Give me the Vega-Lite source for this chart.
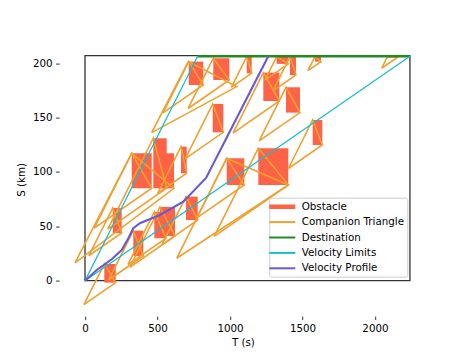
{
  "$schema": "https://vega.github.io/schema/vega-lite/v6.json",
  "width": 367.4,
  "height": 273.4,
  "autosize": "none",
  "padding": {"left": 59.2, "top": 42.6, "right": 47.4, "bottom": 39},
  "config": {
    "view": {"stroke": null},
    "font": "DejaVu Sans",
    "axis": {"domain": false, "grid": false, "tickSize": 3.6, "tickColor": "#000", "tickWidth": 0.8, "labelFont": "DejaVu Sans", "labelFontSize": 10.3, "labelColor": "#000", "labelPadding": 3.5, "titleFont": "DejaVu Sans", "titleFontSize": 10.3, "titleFontWeight": "normal", "titleColor": "#000"},
    "legend": {"orient": "none", "legendX": 210.1, "legendY": 155.1, "symbolType": "M-1.8,0H3.4", "symbolSize": 100, "symbolStrokeWidth": 2, "labelFont": "DejaVu Sans", "labelFontSize": 10.3, "labelColor": "#000", "strokeColor": "#cccccc", "fillColor": "#ffffff", "padding": 3, "cornerRadius": 2, "rowPadding": 3.4, "labelOffset": 17.4}
  },
  "datasets": {
    "frame": [{"t1": 0, "t2": 2241, "s1": 0, "s2": 207}],
    "obstacles": [
      {"t1": 133.1, "t2": 211.7, "s1": -1.8, "s2": 15.4},
      {"t1": 191.0, "t2": 253.1, "s1": 43.9, "s2": 66.9},
      {"t1": 333.1, "t2": 402.1, "s1": 22.7, "s2": 46.0},
      {"t1": 477.9, "t2": 558.6, "s1": 39.0, "s2": 63.2},
      {"t1": 517.2, "t2": 620.7, "s1": 41.1, "s2": 67.8},
      {"t1": 696.6, "t2": 777.2, "s1": 55.8, "s2": 77.3},
      {"t1": 322.1, "t2": 460.0, "s1": 85.0, "s2": 117.2},
      {"t1": 471.0, "t2": 563.4, "s1": 85.0, "s2": 131.0},
      {"t1": 503.4, "t2": 613.8, "s1": 85.0, "s2": 117.2},
      {"t1": 662.1, "t2": 701.4, "s1": 98.8, "s2": 123.3},
      {"t1": 880.7, "t2": 953.8, "s1": 136.5, "s2": 162.6},
      {"t1": 715.2, "t2": 815.9, "s1": 180.0, "s2": 201.5},
      {"t1": 884.8, "t2": 995.2, "s1": 184.6, "s2": 204.6},
      {"t1": 977.2, "t2": 1098.6, "s1": 88.0, "s2": 112.6},
      {"t1": 1115.2, "t2": 1149.7, "s1": 190.8, "s2": 206.1},
      {"t1": 1229.7, "t2": 1340.0, "s1": 165.3, "s2": 191.4},
      {"t1": 1322.1, "t2": 1402.1, "s1": 199.4, "s2": 206.1},
      {"t1": 1413.8, "t2": 1455.2, "s1": 189.2, "s2": 206.1},
      {"t1": 1386.2, "t2": 1482.8, "s1": 154.6, "s2": 177.9},
      {"t1": 1570.3, "t2": 1636.6, "s1": 124.8, "s2": 147.8},
      {"t1": 1195.2, "t2": 1402.1, "s1": 88.0, "s2": 121.8},
      {"t1": 1586.2, "t2": 1627.6, "s1": 201.5, "s2": 206.1}
    ],
    "lines": [
      {"series": "Companion Triangle", "id": "t1", "k": 0, "T": -7.5, "S": -22.1},
      {"series": "Companion Triangle", "id": "t1", "k": 1, "T": 133.1, "S": 15.4},
      {"series": "Companion Triangle", "id": "t1", "k": 2, "T": 211.7, "S": -1.8},
      {"series": "Companion Triangle", "id": "t1", "k": 3, "T": -7.5, "S": -22.1},
      {"series": "Companion Triangle", "id": "t2", "k": 0, "T": 25.8, "S": 22.9},
      {"series": "Companion Triangle", "id": "t2", "k": 1, "T": 191.0, "S": 66.9},
      {"series": "Companion Triangle", "id": "t2", "k": 2, "T": 253.1, "S": 43.9},
      {"series": "Companion Triangle", "id": "t2", "k": 3, "T": 25.8, "S": 22.9},
      {"series": "Companion Triangle", "id": "t3", "k": 0, "T": 162.6, "S": 0.6},
      {"series": "Companion Triangle", "id": "t3", "k": 1, "T": 333.1, "S": 46.0},
      {"series": "Companion Triangle", "id": "t3", "k": 2, "T": 402.1, "S": 22.7},
      {"series": "Companion Triangle", "id": "t3", "k": 3, "T": 162.6, "S": 0.6},
      {"series": "Companion Triangle", "id": "t4", "k": 0, "T": 296, "S": 14.7},
      {"series": "Companion Triangle", "id": "t4", "k": 1, "T": 477.9, "S": 63.2},
      {"series": "Companion Triangle", "id": "t4", "k": 2, "T": 558.6, "S": 39.0},
      {"series": "Companion Triangle", "id": "t4", "k": 3, "T": 296, "S": 14.7},
      {"series": "Companion Triangle", "id": "t5", "k": 0, "T": 308.8, "S": 12.3},
      {"series": "Companion Triangle", "id": "t5", "k": 1, "T": 517.2, "S": 67.8},
      {"series": "Companion Triangle", "id": "t5", "k": 2, "T": 620.7, "S": 41.1},
      {"series": "Companion Triangle", "id": "t5", "k": 3, "T": 308.8, "S": 12.3},
      {"series": "Companion Triangle", "id": "t6", "k": 0, "T": 530.2, "S": 33.0},
      {"series": "Companion Triangle", "id": "t6", "k": 1, "T": 696.6, "S": 77.3},
      {"series": "Companion Triangle", "id": "t6", "k": 2, "T": 777.2, "S": 55.8},
      {"series": "Companion Triangle", "id": "t6", "k": 3, "T": 530.2, "S": 33.0},
      {"series": "Companion Triangle", "id": "t7", "k": 0, "T": 63.9, "S": 48.4},
      {"series": "Companion Triangle", "id": "t7", "k": 1, "T": 322.1, "S": 117.2},
      {"series": "Companion Triangle", "id": "t7", "k": 2, "T": 460.0, "S": 85.0},
      {"series": "Companion Triangle", "id": "t7", "k": 3, "T": 63.9, "S": 48.4},
      {"series": "Companion Triangle", "id": "t8", "k": 0, "T": 157.5, "S": 47.5},
      {"series": "Companion Triangle", "id": "t8", "k": 1, "T": 471.0, "S": 131.0},
      {"series": "Companion Triangle", "id": "t8", "k": 2, "T": 563.4, "S": 85.0},
      {"series": "Companion Triangle", "id": "t8", "k": 3, "T": 157.5, "S": 47.5},
      {"series": "Companion Triangle", "id": "t9", "k": 0, "T": -69, "S": 16.3},
      {"series": "Companion Triangle", "id": "t9", "k": 1, "T": 322.1, "S": 117.2},
      {"series": "Companion Triangle", "id": "t9", "k": 2, "T": 613.8, "S": 85.0},
      {"series": "Companion Triangle", "id": "t9", "k": 3, "T": -69, "S": 16.3},
      {"series": "Companion Triangle", "id": "t10", "k": 0, "T": 500.4, "S": 80.2},
      {"series": "Companion Triangle", "id": "t10", "k": 1, "T": 662.1, "S": 123.3},
      {"series": "Companion Triangle", "id": "t10", "k": 2, "T": 701.4, "S": 98.8},
      {"series": "Companion Triangle", "id": "t10", "k": 3, "T": 500.4, "S": 80.2},
      {"series": "Companion Triangle", "id": "t11", "k": 0, "T": 691.9, "S": 112.3},
      {"series": "Companion Triangle", "id": "t11", "k": 1, "T": 880.7, "S": 162.6},
      {"series": "Companion Triangle", "id": "t11", "k": 2, "T": 953.8, "S": 136.5},
      {"series": "Companion Triangle", "id": "t11", "k": 3, "T": 691.9, "S": 112.3},
      {"series": "Companion Triangle", "id": "t12", "k": 0, "T": 538.2, "S": 154.3},
      {"series": "Companion Triangle", "id": "t12", "k": 1, "T": 715.2, "S": 201.5},
      {"series": "Companion Triangle", "id": "t12", "k": 2, "T": 815.9, "S": 180.0},
      {"series": "Companion Triangle", "id": "t12", "k": 3, "T": 538.2, "S": 154.3},
      {"series": "Companion Triangle", "id": "t13", "k": 0, "T": 711.2, "S": 158.4},
      {"series": "Companion Triangle", "id": "t13", "k": 1, "T": 884.8, "S": 204.6},
      {"series": "Companion Triangle", "id": "t13", "k": 2, "T": 995.2, "S": 184.6},
      {"series": "Companion Triangle", "id": "t13", "k": 3, "T": 711.2, "S": 158.4},
      {"series": "Companion Triangle", "id": "t14", "k": 0, "T": 771.4, "S": 57.8},
      {"series": "Companion Triangle", "id": "t14", "k": 1, "T": 977.2, "S": 112.6},
      {"series": "Companion Triangle", "id": "t14", "k": 2, "T": 1098.6, "S": 88.0},
      {"series": "Companion Triangle", "id": "t14", "k": 3, "T": 771.4, "S": 57.8},
      {"series": "Companion Triangle", "id": "t15", "k": 0, "T": 1009, "S": 177.8},
      {"series": "Companion Triangle", "id": "t15", "k": 1, "T": 1115.2, "S": 206.1},
      {"series": "Companion Triangle", "id": "t15", "k": 2, "T": 1149.7, "S": 190.8},
      {"series": "Companion Triangle", "id": "t15", "k": 3, "T": 1009, "S": 177.8},
      {"series": "Companion Triangle", "id": "t16", "k": 0, "T": 1021.1, "S": 135.8},
      {"series": "Companion Triangle", "id": "t16", "k": 1, "T": 1229.7, "S": 191.4},
      {"series": "Companion Triangle", "id": "t16", "k": 2, "T": 1340.0, "S": 165.3},
      {"series": "Companion Triangle", "id": "t16", "k": 3, "T": 1021.1, "S": 135.8},
      {"series": "Companion Triangle", "id": "t17", "k": 0, "T": 1241.1, "S": 184.5},
      {"series": "Companion Triangle", "id": "t17", "k": 1, "T": 1322.1, "S": 206.1},
      {"series": "Companion Triangle", "id": "t17", "k": 2, "T": 1402.1, "S": 199.4},
      {"series": "Companion Triangle", "id": "t17", "k": 3, "T": 1241.1, "S": 184.5},
      {"series": "Companion Triangle", "id": "t18", "k": 0, "T": 1294.7, "S": 174.4},
      {"series": "Companion Triangle", "id": "t18", "k": 1, "T": 1413.8, "S": 206.1},
      {"series": "Companion Triangle", "id": "t18", "k": 2, "T": 1455.2, "S": 189.2},
      {"series": "Companion Triangle", "id": "t18", "k": 3, "T": 1294.7, "S": 174.4},
      {"series": "Companion Triangle", "id": "t19", "k": 0, "T": 1201, "S": 128.6},
      {"series": "Companion Triangle", "id": "t19", "k": 1, "T": 1386.2, "S": 177.9},
      {"series": "Companion Triangle", "id": "t19", "k": 2, "T": 1482.8, "S": 154.6},
      {"series": "Companion Triangle", "id": "t19", "k": 3, "T": 1201, "S": 128.6},
      {"series": "Companion Triangle", "id": "t20", "k": 0, "T": 1403, "S": 103.2},
      {"series": "Companion Triangle", "id": "t20", "k": 1, "T": 1570.3, "S": 147.8},
      {"series": "Companion Triangle", "id": "t20", "k": 2, "T": 1636.6, "S": 124.8},
      {"series": "Companion Triangle", "id": "t20", "k": 3, "T": 1403, "S": 103.2},
      {"series": "Companion Triangle", "id": "t21", "k": 0, "T": 891.1, "S": 40.8},
      {"series": "Companion Triangle", "id": "t21", "k": 1, "T": 1195.2, "S": 121.8},
      {"series": "Companion Triangle", "id": "t21", "k": 2, "T": 1402.1, "S": 88.0},
      {"series": "Companion Triangle", "id": "t21", "k": 3, "T": 891.1, "S": 40.8},
      {"series": "Companion Triangle", "id": "t22", "k": 0, "T": 1537.8, "S": 193.2},
      {"series": "Companion Triangle", "id": "t22", "k": 1, "T": 1586.2, "S": 206.1},
      {"series": "Companion Triangle", "id": "t22", "k": 2, "T": 1627.6, "S": 201.5},
      {"series": "Companion Triangle", "id": "t22", "k": 3, "T": 1537.8, "S": 193.2},
      {"series": "Companion Triangle", "id": "t23", "k": 0, "T": 632.4, "S": 20.6},
      {"series": "Companion Triangle", "id": "t23", "k": 1, "T": 977.2, "S": 112.6},
      {"series": "Companion Triangle", "id": "t23", "k": 2, "T": 1402.1, "S": 88.0},
      {"series": "Companion Triangle", "id": "t23", "k": 3, "T": 632.4, "S": 20.6},
      {"series": "Companion Triangle", "id": "t24", "k": 0, "T": 2046.2, "S": 195.4},
      {"series": "Companion Triangle", "id": "t24", "k": 1, "T": 2086.2, "S": 206.1},
      {"series": "Companion Triangle", "id": "t24", "k": 2, "T": 2158.6, "S": 205.8},
      {"series": "Companion Triangle", "id": "t24", "k": 3, "T": 2046.2, "S": 195.4},
      {"series": "Companion Triangle", "id": "t25", "k": 0, "T": 460, "S": 136.2},
      {"series": "Companion Triangle", "id": "t25", "k": 1, "T": 712.4, "S": 201.5},
      {"series": "Companion Triangle", "id": "t25", "k": 2, "T": 1046.2, "S": 178.5},
      {"series": "Companion Triangle", "id": "t25", "k": 3, "T": 460, "S": 136.2},
      {"series": "Destination", "id": "d", "k": 0, "T": 777, "S": 206.5},
      {"series": "Destination", "id": "d", "k": 1, "T": 2241, "S": 206.5},
      {"series": "Velocity Limits", "id": "vmax", "k": 0, "T": 0, "S": 0},
      {"series": "Velocity Limits", "id": "vmax", "k": 1, "T": 777, "S": 206.5},
      {"series": "Velocity Limits", "id": "vmin", "k": 0, "T": 0, "S": 0},
      {"series": "Velocity Limits", "id": "vmin", "k": 1, "T": 2241, "S": 206.5},
      {"series": "Velocity Profile", "id": "p", "k": 0, "T": 0, "S": 0},
      {"series": "Velocity Profile", "id": "p", "k": 1, "T": 81, "S": 9.8},
      {"series": "Velocity Profile", "id": "p", "k": 2, "T": 184, "S": 19.7},
      {"series": "Velocity Profile", "id": "p", "k": 3, "T": 253, "S": 28.2},
      {"series": "Velocity Profile", "id": "p", "k": 4, "T": 299, "S": 39},
      {"series": "Velocity Profile", "id": "p", "k": 5, "T": 333, "S": 48.2},
      {"series": "Velocity Profile", "id": "p", "k": 6, "T": 379, "S": 52.8},
      {"series": "Velocity Profile", "id": "p", "k": 7, "T": 517, "S": 60.4},
      {"series": "Velocity Profile", "id": "p", "k": 8, "T": 678, "S": 72.7},
      {"series": "Velocity Profile", "id": "p", "k": 9, "T": 835, "S": 94.5},
      {"series": "Velocity Profile", "id": "p", "k": 10, "T": 1034, "S": 146.5},
      {"series": "Velocity Profile", "id": "p", "k": 11, "T": 1264, "S": 206.5}
    ]
  },
  "encoding": {
    "x": {"type": "quantitative", "scale": {"domain": [-178, 2356], "nice": false, "zero": false}, "axis": {"title": "T (s)", "values": [0, 500, 1000, 1500, 2000], "format": "d", "titlePadding": 4}},
    "y": {"type": "quantitative", "scale": {"domain": [-32.5, 219], "nice": false, "zero": false}, "axis": {"title": "S (km)", "values": [0, 50, 100, 150, 200], "format": "d", "titlePadding": 6}}
  },
  "layer": [
    {
      "data": {"name": "frame"},
      "mark": {"type": "rect", "filled": false, "stroke": "#333333", "strokeWidth": 1.3},
      "encoding": {"x": {"field": "t1"}, "x2": {"field": "t2"}, "y": {"field": "s1"}, "y2": {"field": "s2"}}
    },
    {
      "data": {"name": "obstacles"},
      "mark": {"type": "rect", "fill": "#ff6347", "stroke": null},
      "encoding": {"x": {"field": "t1"}, "x2": {"field": "t2"}, "y": {"field": "s1"}, "y2": {"field": "s2"}}
    },
    {
      "data": {"name": "lines"},
      "transform": [{"filter": "datum.series === 'Companion Triangle'"}],
      "mark": {"type": "line", "strokeWidth": 1.6},
      "encoding": {
        "x": {"field": "T"}, "y": {"field": "S"},
        "detail": {"field": "id"}, "order": {"field": "k", "type": "quantitative"},
        "color": {"field": "series", "type": "nominal", "scale": {"domain": ["Obstacle", "Companion Triangle", "Destination", "Velocity Limits", "Velocity Profile"], "range": ["#ff6347", "#f0a030", "#228b22", "#17becf", "#6a5acd"]},
          "legend": {"title": null, "encode": {"symbols": {"update": {
            "shape": {"signal": "datum.value === 'Obstacle' ? 'M-1.6,-0.25H3.2V0.25H-1.6Z' : 'M-1.8,0H3.4'"},
            "fill": {"signal": "datum.value === 'Obstacle' ? '#ff6347' : 'transparent'"},
            "strokeWidth": {"value": 2}
          }}}}}
      }
    },
    {
      "data": {"name": "lines"},
      "transform": [{"filter": "datum.series === 'Destination'"}],
      "mark": {"type": "line", "strokeWidth": 2.6},
      "encoding": {"x": {"field": "T"}, "y": {"field": "S"}, "order": {"field": "k", "type": "quantitative"}, "color": {"field": "series", "type": "nominal"}}
    },
    {
      "data": {"name": "lines"},
      "transform": [{"filter": "datum.series === 'Velocity Limits'"}],
      "mark": {"type": "line", "strokeWidth": 1.3},
      "encoding": {"x": {"field": "T"}, "y": {"field": "S"}, "detail": {"field": "id"}, "order": {"field": "k", "type": "quantitative"}, "color": {"field": "series", "type": "nominal"}}
    },
    {
      "data": {"name": "lines"},
      "transform": [{"filter": "datum.series === 'Velocity Profile'"}],
      "mark": {"type": "line", "strokeWidth": 2.1},
      "encoding": {"x": {"field": "T"}, "y": {"field": "S"}, "order": {"field": "k", "type": "quantitative"}, "color": {"field": "series", "type": "nominal"}}
    }
  ]
}
